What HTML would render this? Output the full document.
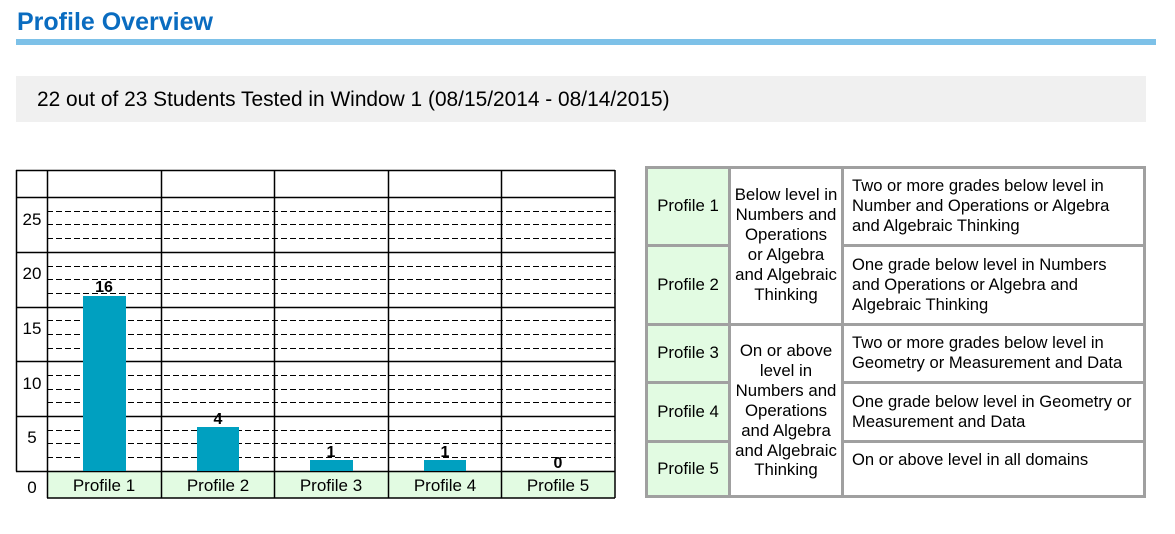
<!DOCTYPE html>
<html><head><meta charset="utf-8"><style>
body{margin:0;background:#fff;width:1175px;height:529px;overflow:hidden;font-family:"Liberation Sans",Arial,sans-serif;}
</style></head><body>
<svg width="1175" height="529" xmlns="http://www.w3.org/2000/svg" font-family="Liberation Sans, Arial, sans-serif">
<text x="17" y="30" font-size="25" font-weight="bold" fill="#0a6cc0">Profile Overview</text>
<rect x="16" y="39" width="1140" height="6" fill="#7dc1e8"/>
<rect x="16" y="76" width="1130" height="46" fill="#f0f0f0"/>
<text x="37" y="106" font-size="20.9" fill="#000">22 out of 23 Students Tested in Window 1 (08/15/2014 - 08/14/2015)</text>

<!-- chart -->
<rect x="47" y="471" width="568" height="27" fill="#e2fbe2"/>
<g stroke="#000" stroke-width="1" stroke-dasharray="6,3">
<line x1="47" x2="615" y1="211.5" y2="211.5"/><line x1="47" x2="615" y1="224.5" y2="224.5"/><line x1="47" x2="615" y1="238.5" y2="238.5"/>
<line x1="47" x2="615" y1="266.5" y2="266.5"/><line x1="47" x2="615" y1="279.5" y2="279.5"/><line x1="47" x2="615" y1="293.5" y2="293.5"/>
<line x1="47" x2="615" y1="320.5" y2="320.5"/><line x1="47" x2="615" y1="334.5" y2="334.5"/><line x1="47" x2="615" y1="348.5" y2="348.5"/>
<line x1="47" x2="615" y1="375.5" y2="375.5"/><line x1="47" x2="615" y1="389.5" y2="389.5"/><line x1="47" x2="615" y1="402.5" y2="402.5"/>
<line x1="47" x2="615" y1="430.5" y2="430.5"/><line x1="47" x2="615" y1="443.5" y2="443.5"/><line x1="47" x2="615" y1="457.5" y2="457.5"/>
</g>
<g stroke="#000" stroke-width="1.5" fill="none">
<line x1="16" x2="615" y1="170.5" y2="170.5"/>
<line x1="16" x2="615" y1="197.5" y2="197.5"/>
<line x1="16" x2="615" y1="252.5" y2="252.5"/>
<line x1="16" x2="615" y1="307.5" y2="307.5"/>
<line x1="16" x2="615" y1="361.5" y2="361.5"/>
<line x1="16" x2="615" y1="416.5" y2="416.5"/>
<line x1="16" x2="615" y1="471.5" y2="471.5"/>
<line x1="47" x2="615" y1="498" y2="498"/>
<line x1="16.5" x2="16.5" y1="170" y2="471.5"/>
<line x1="47.5" x2="47.5" y1="170" y2="498"/>
<line x1="161.5" x2="161.5" y1="170" y2="498"/>
<line x1="274.5" x2="274.5" y1="170" y2="498"/>
<line x1="388.5" x2="388.5" y1="170" y2="498"/>
<line x1="501.5" x2="501.5" y1="170" y2="498"/>
<line x1="615" x2="615" y1="170" y2="498"/>
</g>
<g fill="#00a0c0">
<rect x="83" y="296" width="43" height="175"/>
<rect x="197" y="427" width="42" height="44"/>
<rect x="310" y="460" width="43" height="11"/>
<rect x="424" y="460" width="42" height="11"/>
</g>
<g font-size="17" fill="#000" text-anchor="middle">
<text x="32" y="225">25</text><text x="32" y="279">20</text><text x="32" y="334">15</text>
<text x="32" y="389">10</text><text x="32" y="443">5</text><text x="32" y="493">0</text>
<text x="104" y="491">Profile 1</text><text x="218" y="491">Profile 2</text><text x="331" y="491">Profile 3</text>
<text x="445" y="491">Profile 4</text><text x="558" y="491">Profile 5</text>
</g>
<g font-size="16" font-weight="bold" fill="#000" text-anchor="middle">
<text x="104" y="292">16</text><text x="218" y="424">4</text><text x="331" y="457">1</text><text x="445" y="457">1</text><text x="558" y="468">0</text>
</g>

<!-- table -->
<rect x="647" y="168" width="82" height="328" fill="#e2fbe2"/>
<g stroke="#a0a0a0" stroke-width="3" fill="none">
<rect x="646.5" y="167.5" width="498" height="329"/>
<line x1="729.5" x2="729.5" y1="167" y2="497"/>
<line x1="842.5" x2="842.5" y1="167" y2="497"/>
<line x1="646" x2="729" y1="245.5" y2="245.5"/><line x1="842" x2="1145" y1="245.5" y2="245.5"/>
<line x1="646" x2="1145" y1="324.5" y2="324.5"/>
<line x1="646" x2="729" y1="382.5" y2="382.5"/><line x1="842" x2="1145" y1="382.5" y2="382.5"/>
<line x1="646" x2="729" y1="441.5" y2="441.5"/><line x1="842" x2="1145" y1="441.5" y2="441.5"/>
</g>
<g font-size="16.8" fill="#000" text-anchor="middle">
<text x="688" y="211">Profile 1</text><text x="688" y="290">Profile 2</text><text x="688" y="358">Profile 3</text>
<text x="688" y="417">Profile 4</text><text x="688" y="474">Profile 5</text>
<text x="786" y="200">Below level in</text><text x="786" y="220">Numbers and</text><text x="786" y="240">Operations</text>
<text x="786" y="260">or Algebra</text><text x="786" y="280">and Algebraic</text><text x="786" y="300">Thinking</text>
<text x="786" y="356">On or above</text><text x="786" y="376">level in</text><text x="786" y="396">Numbers and</text>
<text x="786" y="416">Operations</text><text x="786" y="436">and Algebra</text><text x="786" y="456">and Algebraic</text><text x="786" y="475">Thinking</text>
</g>
<g font-size="16.6" fill="#000">
<text x="852" y="191">Two or more grades below level in</text>
<text x="852" y="211">Number and Operations or Algebra</text>
<text x="852" y="231">and Algebraic Thinking</text>
<text x="852" y="270">One grade below level in Numbers</text>
<text x="852" y="290">and Operations or Algebra and</text>
<text x="852" y="310">Algebraic Thinking</text>
<text x="852" y="348">Two or more grades below level in</text>
<text x="852" y="368">Geometry or Measurement and Data</text>
<text x="852" y="407">One grade below level in Geometry or</text>
<text x="852" y="427">Measurement and Data</text>
<text x="852" y="465">On or above level in all domains</text>
</g>
</svg>
</body></html>
